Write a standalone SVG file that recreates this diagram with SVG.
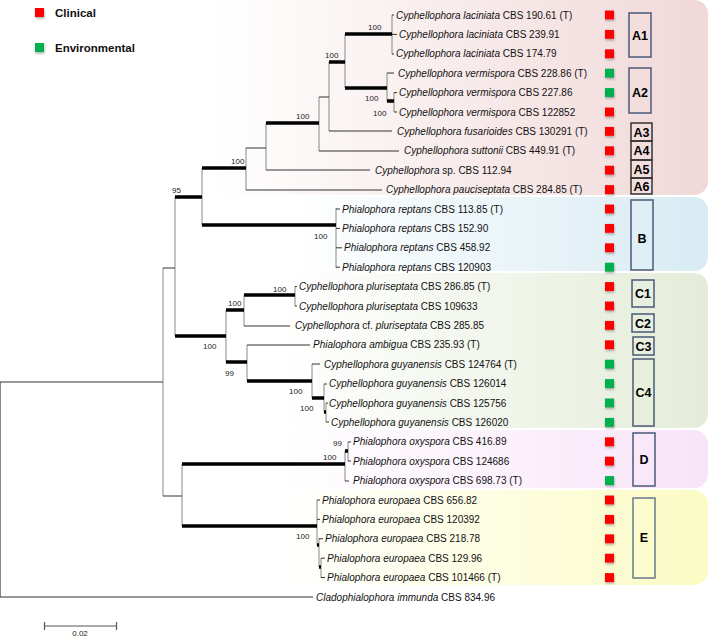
<svg xmlns="http://www.w3.org/2000/svg" width="709" height="638" viewBox="0 0 709 638">
<defs>
<linearGradient id="gA" x1="0" y1="0" x2="709" y2="0" gradientUnits="userSpaceOnUse"><stop offset="0.3" stop-color="#ffffff"/><stop offset="1" stop-color="#f1d8d8"/></linearGradient>
<linearGradient id="gB" x1="0" y1="0" x2="709" y2="0" gradientUnits="userSpaceOnUse"><stop offset="0.42" stop-color="#ffffff"/><stop offset="1" stop-color="#d8ebf3"/></linearGradient>
<linearGradient id="gC" x1="0" y1="0" x2="709" y2="0" gradientUnits="userSpaceOnUse"><stop offset="0.4" stop-color="#ffffff"/><stop offset="1" stop-color="#e4ecd8"/></linearGradient>
<linearGradient id="gD" x1="0" y1="0" x2="709" y2="0" gradientUnits="userSpaceOnUse"><stop offset="0.4" stop-color="#ffffff"/><stop offset="1" stop-color="#f8e4f8"/></linearGradient>
<linearGradient id="gE" x1="0" y1="0" x2="709" y2="0" gradientUnits="userSpaceOnUse"><stop offset="0.4" stop-color="#ffffff"/><stop offset="1" stop-color="#fbfbc4"/></linearGradient>
<filter id="sh" x="-50%" y="-50%" width="200%" height="200%"><feDropShadow dx="0.5" dy="1.5" stdDeviation="1" flood-color="#777" flood-opacity="0.6"/></filter>
</defs>
<style>
.lf{font-family:"Liberation Sans",Arial,sans-serif;font-size:10px;fill:#111}
.lf tspan.i{font-style:italic}
.bs{font-family:"Liberation Sans",Arial,sans-serif;font-size:8px;fill:#222}
.lg{font-family:"Liberation Sans",Arial,sans-serif;font-size:11.5px;font-weight:bold;fill:#111}
.bl{font-family:"Liberation Sans",Arial,sans-serif;font-size:12.5px;font-weight:bold;fill:#000;text-anchor:middle}
.th{stroke:#000;stroke-width:3.5;fill:none}
.h{stroke:#333;stroke-width:1;fill:none}
.v{stroke:#888;stroke-width:1;fill:none}
.box{fill:none;stroke:#4a5a78;stroke-width:1.5}
.red{fill:#ff0000;filter:url(#sh)}
.grn{fill:#00b050;filter:url(#sh)}
</style>
<g id="regions">
<rect x="-20" y="0" width="728" height="195" rx="14" fill="url(#gA)"/>
<rect x="-20" y="197" width="728" height="74" rx="14" fill="url(#gB)"/>
<rect x="-20" y="273" width="728" height="155" rx="14" fill="url(#gC)"/>
<rect x="-20" y="430" width="728" height="58" rx="14" fill="url(#gD)"/>
<rect x="-20" y="490" width="728" height="95" rx="14" fill="url(#gE)"/>
</g>
<g id="legend">
<rect class="red" x="35" y="8" width="9" height="9"/>
<text class="lg" x="55" y="17">Clinical</text>
<rect class="grn" x="35" y="43" width="9" height="9"/>
<text class="lg" x="55" y="52">Environmental</text>
</g>
<g id="connectors">
<path class="v" d="M0.5 382V597M163 268V496M175 197V336M202 168V225M246 148V190M266 123V170M319 97V151M329 62V131M345 34V88M392 15V54M387 73V101M394 92V112M336 208V268M226 310V362M244 295V326M295 286V306M247 345V381M312 364V398M324 384V412M326 403V422M182 464V526M345 451V481M348 442V461M317 500V545M319 538V567M321 558V578"/>
<path class="h" d="M0 382H163M0 597H313M163 268H175M163 496H182M246 190H382M246 148H266M266 170H370M319 151H399M319 97H329M329 131H392M392 15H394M392 34.4H397M392 54H394M387 73H394M394 92.6H397M394 112H397M336 209H340M336 228.4H340M336 247.8H342M336 267.2H340M295 286.6H297M295 306H297M244 326H290M247 345H310M312 364H320M324 384H327M326 403H328M326 422H329M345 481H349M348 442H351M348 461H351M317 500H320M317 519.4H320M319 538.8H323M321 558.2H325M321 577.6H325"/>
<path class="th" d="M175 197H202M202 168H246M266 123H319M329 62H345M345 34H392M345 88H387M387 101H394M202 225H336M175 336H226M226 310H244M244 295H295M226 362H247M247 381H312M312 398H324M324 412H326M182 464H345M345 451H348M182 526H317M317 545H319M319 567H321"/>
<g id="bootstrap">
<text class="bs" x="172" y="193">95</text>
<text class="bs" x="231" y="164">100</text>
<text class="bs" x="296" y="119">100</text>
<text class="bs" x="325" y="58">100</text>
<text class="bs" x="368" y="30">100</text>
<text class="bs" x="365" y="101">100</text>
<text class="bs" x="373" y="116">100</text>
<text class="bs" x="314" y="239">100</text>
<text class="bs" x="203" y="349">100</text>
<text class="bs" x="228" y="306">100</text>
<text class="bs" x="273" y="292">100</text>
<text class="bs" x="225" y="376">99</text>
<text class="bs" x="289" y="394">100</text>
<text class="bs" x="300" y="411">100</text>
<text class="bs" x="323" y="460">100</text>
<text class="bs" x="333" y="446">99</text>
<text class="bs" x="296" y="539">100</text>
</g>
</g>
<g id="leaves">
<g id="n1"><text class="lf" x="396" y="18.5"><tspan class="i">Cyphellophora laciniata</tspan> CBS 190.61 (T)</text><rect class="red" x="605" y="10.5" width="9" height="9"/></g>
<g id="n2"><text class="lf" x="399" y="37.9"><tspan class="i">Cyphellophora laciniata</tspan> CBS 239.91</text><rect class="red" x="605" y="29.9" width="9" height="9"/></g>
<g id="n3"><text class="lf" x="396" y="57.3"><tspan class="i">Cyphellophora laciniata</tspan> CBS 174.79</text><rect class="red" x="605" y="49.3" width="9" height="9"/></g>
<g id="n4"><text class="lf" x="398" y="76.7"><tspan class="i">Cyphellophora vermispora</tspan> CBS 228.86 (T)</text><rect class="grn" x="605" y="68.7" width="9" height="9"/></g>
<g id="n5"><text class="lf" x="399" y="96.1"><tspan class="i">Cyphellophora vermispora</tspan> CBS 227.86</text><rect class="grn" x="605" y="88.1" width="9" height="9"/></g>
<g id="n6"><text class="lf" x="399" y="115.5"><tspan class="i">Cyphellophora vermispora</tspan> CBS 122852</text><rect class="red" x="605" y="107.5" width="9" height="9"/></g>
<g id="n7"><text class="lf" x="397" y="134.9"><tspan class="i">Cyphellophora fusarioides</tspan> CBS 130291 (T)</text><rect class="red" x="605" y="126.9" width="9" height="9"/></g>
<g id="n8"><text class="lf" x="404" y="154.3"><tspan class="i">Cyphellophora suttonii</tspan> CBS 449.91 (T)</text><rect class="red" x="605" y="146.3" width="9" height="9"/></g>
<g id="n9"><text class="lf" x="375" y="173.7"><tspan class="i">Cyphellophora</tspan> sp. CBS 112.94</text><rect class="red" x="605" y="165.7" width="9" height="9"/></g>
<g id="n10"><text class="lf" x="386" y="193.1"><tspan class="i">Cyphellophora pauciseptata</tspan> CBS 284.85 (T)</text><rect class="red" x="605" y="185.1" width="9" height="9"/></g>
<g id="n11"><text class="lf" x="342" y="212.5"><tspan class="i">Phialophora reptans</tspan> CBS 113.85 (T)</text><rect class="red" x="605" y="204.5" width="9" height="9"/></g>
<g id="n12"><text class="lf" x="342" y="231.9"><tspan class="i">Phialophora reptans</tspan> CBS 152.90</text><rect class="red" x="605" y="223.9" width="9" height="9"/></g>
<g id="n13"><text class="lf" x="344" y="251.3"><tspan class="i">Phialophora reptans</tspan> CBS 458.92</text><rect class="red" x="605" y="243.3" width="9" height="9"/></g>
<g id="n14"><text class="lf" x="342" y="270.7"><tspan class="i">Phialophora reptans</tspan> CBS 120903</text><rect class="grn" x="605" y="262.7" width="9" height="9"/></g>
<g id="n15"><text class="lf" x="299" y="290.1"><tspan class="i">Cyphellophora pluriseptata</tspan> CBS 286.85 (T)</text><rect class="red" x="605" y="282.1" width="9" height="9"/></g>
<g id="n16"><text class="lf" x="299" y="309.5"><tspan class="i">Cyphellophora pluriseptata</tspan> CBS 109633</text><rect class="red" x="605" y="301.5" width="9" height="9"/></g>
<g id="n17"><text class="lf" x="295" y="328.9"><tspan class="i">Cyphellophora</tspan> cf. <tspan class="i">pluriseptata</tspan> CBS 285.85</text><rect class="red" x="605" y="320.9" width="9" height="9"/></g>
<g id="n18"><text class="lf" x="313" y="348.3"><tspan class="i">Phialophora ambigua</tspan> CBS 235.93 (T)</text><rect class="red" x="605" y="340.3" width="9" height="9"/></g>
<g id="n19"><text class="lf" x="324" y="367.7"><tspan class="i">Cyphellophora guyanensis</tspan> CBS 124764 (T)</text><rect class="grn" x="605" y="359.7" width="9" height="9"/></g>
<g id="n20"><text class="lf" x="329" y="387.1"><tspan class="i">Cyphellophora guyanensis</tspan> CBS 126014</text><rect class="grn" x="605" y="379.1" width="9" height="9"/></g>
<g id="n21"><text class="lf" x="329" y="406.5"><tspan class="i">Cyphellophora guyanensis</tspan> CBS 125756</text><rect class="grn" x="605" y="398.5" width="9" height="9"/></g>
<g id="n22"><text class="lf" x="331" y="425.9"><tspan class="i">Cyphellophora guyanensis</tspan> CBS 126020</text><rect class="grn" x="605" y="417.9" width="9" height="9"/></g>
<g id="n23"><text class="lf" x="353" y="445.3"><tspan class="i">Phialophora oxyspora</tspan> CBS 416.89</text><rect class="red" x="605" y="437.3" width="9" height="9"/></g>
<g id="n24"><text class="lf" x="353" y="464.7"><tspan class="i">Phialophora oxyspora</tspan> CBS 124686</text><rect class="red" x="605" y="456.7" width="9" height="9"/></g>
<g id="n25"><text class="lf" x="353" y="484.1"><tspan class="i">Phialophora oxyspora</tspan> CBS 698.73 (T)</text><rect class="grn" x="605" y="476.1" width="9" height="9"/></g>
<g id="n26"><text class="lf" x="322" y="503.5"><tspan class="i">Phialophora europaea</tspan> CBS 656.82</text><rect class="red" x="605" y="495.5" width="9" height="9"/></g>
<g id="n27"><text class="lf" x="322" y="522.9"><tspan class="i">Phialophora europaea</tspan> CBS 120392</text><rect class="red" x="605" y="514.9" width="9" height="9"/></g>
<g id="n28"><text class="lf" x="325" y="542.3"><tspan class="i">Phialophora europaea</tspan> CBS 218.78</text><rect class="red" x="605" y="534.3" width="9" height="9"/></g>
<g id="n29"><text class="lf" x="327" y="561.7"><tspan class="i">Phialophora europaea</tspan> CBS 129.96</text><rect class="red" x="605" y="553.7" width="9" height="9"/></g>
<g id="n30"><text class="lf" x="327" y="581.1"><tspan class="i">Phialophora europaea</tspan> CBS 101466 (T)</text><rect class="red" x="605" y="573.1" width="9" height="9"/></g>
<g id="n31"><text class="lf" x="316" y="600.5"><tspan class="i">Cladophialophora immunda</tspan> CBS 834.96</text></g>
</g>
<g id="clades">
<g id="A1"><rect class="box" x="629" y="13" width="22" height="44"/><text class="bl" x="640" y="39.5">A1</text></g>
<g id="A2"><rect class="box" x="629" y="68" width="22" height="45"/><text class="bl" x="640" y="96.5">A2</text></g>
<g id="A3"><rect class="box" x="631" y="123" width="21" height="18" style="stroke:#333"/><text class="bl" x="641.5" y="136.5">A3</text></g>
<g id="A4"><rect class="box" x="631" y="141" width="21" height="19" style="stroke:#333"/><text class="bl" x="641.5" y="155">A4</text></g>
<g id="A5"><rect class="box" x="631" y="160" width="21" height="18" style="stroke:#333"/><text class="bl" x="641.5" y="173.5">A5</text></g>
<g id="A6"><rect class="box" x="631" y="178" width="21" height="16" style="stroke:#333"/><text class="bl" x="641.5" y="190.5">A6</text></g>
<g id="B"><rect class="box" x="631" y="200" width="22" height="70"/><text class="bl" x="642" y="242.5">B</text></g>
<g id="C1"><rect class="box" x="632" y="280" width="22" height="27"/><text class="bl" x="643" y="298">C1</text></g>
<g id="C2"><rect class="box" x="632" y="314" width="22" height="18"/><text class="bl" x="643" y="327.5">C2</text></g>
<g id="C3"><rect class="box" x="633" y="337" width="21" height="18"/><text class="bl" x="643.5" y="350.5">C3</text></g>
<g id="C4"><rect class="box" x="633" y="359" width="21" height="67"/><text class="bl" x="643.5" y="396.5">C4</text></g>
<g id="D"><rect class="box" x="633" y="433" width="22" height="53"/><text class="bl" x="644" y="463.5">D</text></g>
<g id="E"><rect class="box" x="633" y="498" width="22" height="80" style="stroke:#6a7a8a"/><text class="bl" x="644" y="541.5">E</text></g>
</g>
<g id="scalebar">
<path d="M44 626H117M44.5 622V630M116.5 622V630" stroke="#555" stroke-width="1.2" fill="none"/>
<text class="bs" x="80" y="636" text-anchor="middle">0.02</text>
</g>
</svg>
